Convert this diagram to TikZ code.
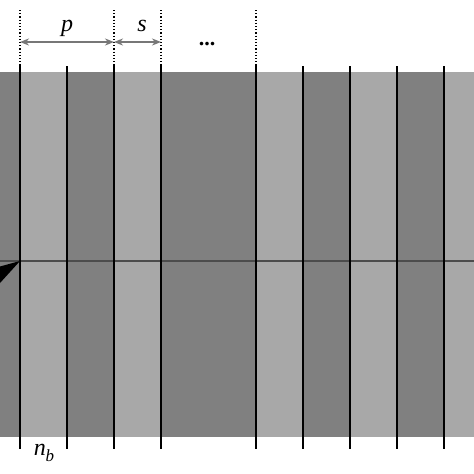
\documentclass[tikz,border=0pt]{standalone}
\usepackage{fontspec}
\setmainfont{Liberation Serif}
\usetikzlibrary{arrows.meta}
\definecolor{darkstripe}{HTML}{808080}
\definecolor{lightstripe}{HTML}{A8A8A8}
\definecolor{dimgrey}{HTML}{777777}
\begin{document}
\begin{tikzpicture}[x=1pt,y=-1pt,
  divider/.style={black,line width=1.8pt},
  guide/.style={black,line width=1.2pt,dotted},
  dimarrow/.style={dimgrey,line width=1.6pt,{Stealth[length=9pt,width=7pt]}-{Stealth[length=9pt,width=7pt]}},
  lbl/.style={font=\fontsize{24}{28}\selectfont\itshape,anchor=base,inner sep=0pt}]
\useasboundingbox (0,0) rectangle (474,474);
\fill[white] (0,0) rectangle (474,474);
% stripes
\fill[darkstripe] (0,72) rectangle (474,437);
\foreach \a/\b in {20/67,114/161,256/303,350/397,444/474}
  \fill[lightstripe] (\a,72) rectangle (\b,437);
% horizontal axis
\draw[black!70,line width=1.4pt] (0,261) -- (474,261);
% dividers
\foreach \x in {20,67,114,161,256,303,350,397,444}
  \draw[divider] (\x,66) -- (\x,449);
% dotted guides
\foreach \x in {20,114,161,256}
  \draw[guide] (\x,10) -- (\x,66);
% dimension arrows
\coordinate (d0) at (20,42);
\coordinate (d1) at (114,42);
\coordinate (d2) at (161,42);
\draw[dimarrow] (d0) -- (d1);
\draw[dimarrow] (d1) -- (d2);
\node[lbl] (p) at (67,31.5) {p};
\node[lbl] (s) at (142,31) {s};
\node[lbl,font=\fontsize{22}{26}\bfseries] (dots) at (207,45) {...};
\node[lbl] (nb) at (44,455) {n\raisebox{-0.28em}{\fontsize{17}{20}\selectfont b}};
% incoming arrowhead
\fill[black] (20,261) -- (0,266.5) -- (0,283) -- cycle;
\end{tikzpicture}
\end{document}
